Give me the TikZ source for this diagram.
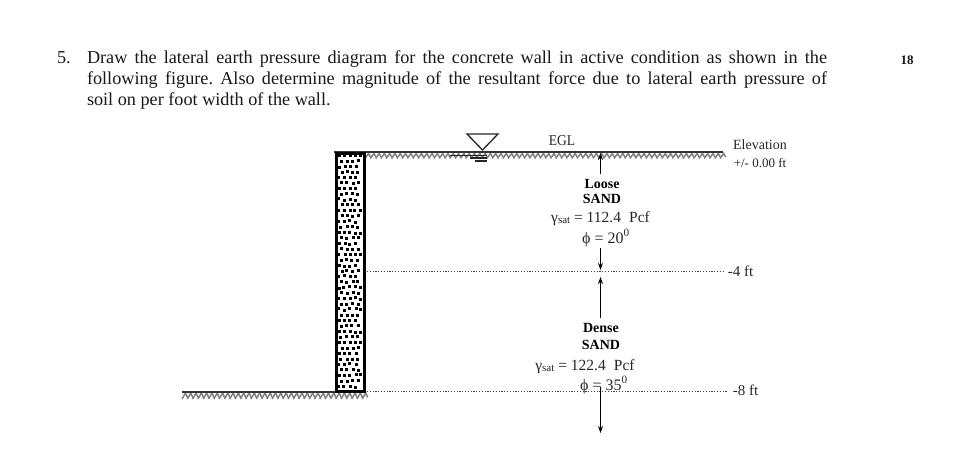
\documentclass[tikz,border=0pt]{standalone}
\usepackage{fontspec}
\setmainfont{Liberation Serif}
\usetikzlibrary{arrows.meta}
\frenchspacing
\tikzset{
  para/.style={inner sep=0pt,outer sep=0pt,anchor=base west,text=black!90,font=\fontsize{18.2}{20}\selectfont},
  lbl/.style={inner sep=0pt,outer sep=0pt,text=black!85,font=\fontsize{13}{15}\selectfont},
  biglbl/.style={inner sep=0pt,outer sep=0pt,text=black!85,font=\fontsize{15}{17}\selectfont},
  soil/.style={inner sep=0pt,outer sep=0pt,text=black,font=\bfseries\fontsize{14}{16}\selectfont},
  groundline/.style={draw=black!80,line width=2pt},
  hatchstroke/.style={draw=black!50,line width=1.5pt},
  dotline/.style={draw=black!75,line width=1pt,dash pattern=on 1.2pt off 1.6pt},
  dimarrow/.style={draw=black,line width=1.4pt,-{Stealth[length=7pt,width=5pt]}},
  wallbox/.style={draw=black,line width=2.8pt,fill=white},
  wt/.style={draw=black!85,line width=1.3pt}
}
\newcommand{\satsub}{\fontsize{11}{12}\selectfont\raisebox{-1.5pt}{sat}\fontsize{15.5}{17}\selectfont}
\begin{document}
\begin{tikzpicture}[x=1pt,y=-1pt]
\useasboundingbox (0,0) rectangle (962,448);
\fill[white] (0,0) rectangle (962,448);
% paragraph
\node[para] (num) at (57,63) {5.};
\node[para] (l1) at (87,63) {\makebox[740pt][s]{Draw the lateral earth pressure diagram for the concrete wall in active condition as shown in the}};
\node[para] (l2) at (87,84) {\makebox[740pt][s]{following figure. Also determine magnitude of the resultant force due to lateral earth pressure of}};
\node[para] (l3) at (87,105.5) {soil on per foot width of the wall.};
\node[inner sep=0pt,anchor=center,text=black!90,font=\bfseries\fontsize{13}{15}\selectfont] (marks) at (907,60) {18};
% hatching
\foreach \x in {0,...,67} {
  \draw[hatchstroke] (365+\x*5.3,158.5) -- (368.5+\x*5.3,153.5) -- (370.5+\x*5.3,157);
}
\foreach \x in {0,...,34} {
  \draw[hatchstroke] (182+\x*5.3,399) -- (185.5+\x*5.3,393) -- (187.5+\x*5.3,397.5);
}
% ground lines
\coordinate (g1) at (334,151.5);
\coordinate (g2) at (723,151.5);
\coordinate (g3) at (182,391.5);
\coordinate (g4) at (365,391.5);
\draw[groundline] (g1) -- (g2);
\draw[groundline] (g3) -- (g4);
% wall
\node[wallbox,minimum width=28pt,minimum height=238pt,inner sep=0pt,anchor=north west] (wall) at (335.2,152) {};
\pgfmathsetseed{11}
\foreach \r in {0,...,42} {
  \foreach \c in {0,...,4} {
    \pgfmathsetmacro{\dx}{339+\c*5.5+mod(\r,2)*2.6+rand*0.7}
    \pgfmathsetmacro{\dy}{155.5+\r*5.5+rand*0.7}
    \ifdim \dx pt<361pt
      \fill[black] (\dx-1.5,\dy-1.5) rectangle (\dx+1.5,\dy+1.5);
    \fi
  }
}
% water table symbol
\coordinate (wa) at (467,134);
\coordinate (wb) at (498,134);
\coordinate (wc) at (482.5,150);
\draw[wt,line join=miter] (wa) -- (wb) -- (wc) -- cycle;
\coordinate (w1a) at (450,155.5);
\coordinate (w1b) at (487,155.5);
\coordinate (w2a) at (470,158);
\coordinate (w2b) at (487,158);
\coordinate (w3a) at (475,161);
\coordinate (w3b) at (487,161);
\draw[wt] (w1a) -- (w1b);
\draw[wt] (w2a) -- (w2b);
\draw[wt] (w3a) -- (w3b);
% dotted lines
\coordinate (d1a) at (367,271);
\coordinate (d1b) at (724,271);
\coordinate (d2a) at (367,391);
\coordinate (d2b) at (727,391);
\draw[dotline] (d1a) -- (d1b);
\draw[dotline] (d2a) -- (d2b);
% labels
\node[inner sep=0pt,text=black!85,font=\fontsize{15}{17}\selectfont,xscale=.9] (egl) at (562,141) {EGL};
\node[lbl,font=\fontsize{14}{16}\selectfont] (elev) at (760,145) {Elevation};
\node[lbl] (zero) at (760,163) {+/- 0.00 ft};
\node[biglbl] (m4) at (740.5,271) {-4 ft};
\node[biglbl] (m8) at (745.5,390) {-8 ft};
\node[soil] (loose) at (602,184) {Loose};
\node[soil] (sand1) at (602,199) {SAND};
\node[biglbl,font=\fontsize{15.5}{17}\selectfont] (g1txt) at (600.5,218.5) {γ\satsub{} = 112.4\; Pcf};
\node[biglbl,font=\fontsize{16}{18}\selectfont] (p1) at (606,238) {ϕ = 20\textsuperscript{0}};
\node[soil] (dense) at (601,328) {Dense};
\node[soil] (sand2) at (601,345) {SAND};
\node[biglbl,font=\fontsize{15.5}{17}\selectfont] (g2txt) at (585,366.5) {γ\satsub{} = 122.4\; Pcf};
\node[biglbl,font=\fontsize{16}{18}\selectfont] (p2) at (604,385) {ϕ = 35\textsuperscript{0}};
% dimension arrows
\coordinate (a1) at (600.5,153);
\coordinate (a2) at (600.5,270);
\coordinate (a3) at (600.5,277);
\coordinate (a4) at (600.5,433);
\coordinate (s1) at (600.5,174);
\coordinate (s2) at (600.5,248);
\coordinate (s3) at (600.5,318);
\coordinate (s4) at (600.5,387);
\draw[dimarrow] (s1) -- (a1);
\draw[dimarrow] (s2) -- (a2);
\draw[dimarrow] (s3) -- (a3);
\draw[dimarrow] (s4) -- (a4);
\end{tikzpicture}
\end{document}
